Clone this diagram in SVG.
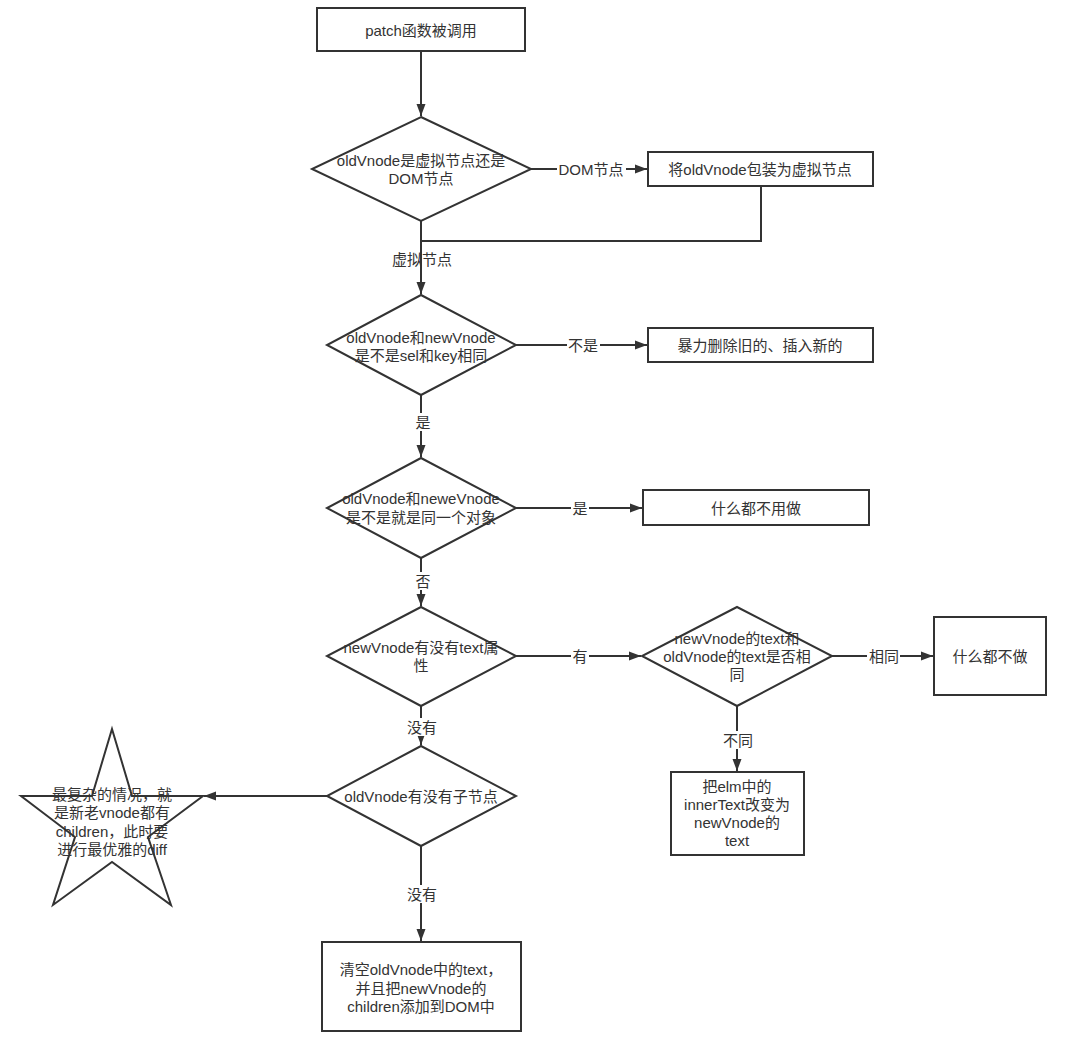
<svg xmlns="http://www.w3.org/2000/svg" width="1073" height="1046" viewBox="0 0 1073 1046">
<defs>
<marker id="arr" viewBox="0 0 12 10" refX="12" refY="5" markerWidth="12" markerHeight="10" markerUnits="userSpaceOnUse" orient="auto">
<path d="M0,0.5 L12,5 L0,9.5 Z" fill="#333"/>
</marker>
<style>
.shape{fill:#fff;stroke:#333;stroke-width:2}
.edge{fill:none;stroke:#333;stroke-width:2}
text{font-family:"Liberation Sans","Noto Sans CJK SC",sans-serif;font-size:15px;fill:#333;text-anchor:middle;dominant-baseline:central}
.lbg{fill:#fff}
</style>
</defs>
<rect width="1073" height="1046" fill="#fff"/>
<g id="connectors">
<path class="edge" d="M421,52 V116" marker-end="url(#arr)"/>
<path class="edge" d="M531,169 H647" marker-end="url(#arr)"/>
<path class="edge" d="M761,186 V241 H421"/>
<path class="edge" d="M421,221 V294" marker-end="url(#arr)"/>
<path class="edge" d="M516,345 H647" marker-end="url(#arr)"/>
<path class="edge" d="M421,395 V457" marker-end="url(#arr)"/>
<path class="edge" d="M516,508 H642" marker-end="url(#arr)"/>
<path class="edge" d="M421,558 V606" marker-end="url(#arr)"/>
<path class="edge" d="M516,656 H641" marker-end="url(#arr)"/>
<path class="edge" d="M832,656 H933" marker-end="url(#arr)"/>
<path class="edge" d="M737,706 V771" marker-end="url(#arr)"/>
<path class="edge" d="M421,706 V745" marker-end="url(#arr)"/>
<path class="edge" d="M327,796 H204" marker-end="url(#arr)"/>
<path class="edge" d="M421,846 V941" marker-end="url(#arr)"/>
<rect class="lbg" x="557" y="160" width="69" height="18"/>
<text x="591" y="169">DOM节点</text>
<text x="422" y="259">虚拟节点</text>
<rect class="lbg" x="567" y="336" width="33" height="18"/>
<text x="583" y="345">不是</text>
<rect class="lbg" x="414" y="413" width="18" height="18"/>
<text x="423" y="422">是</text>
<rect class="lbg" x="571" y="499" width="18" height="18"/>
<text x="580" y="508">是</text>
<rect class="lbg" x="414" y="572" width="18" height="18"/>
<text x="423" y="581">否</text>
<rect class="lbg" x="571" y="647" width="18" height="18"/>
<text x="580" y="656">有</text>
<rect class="lbg" x="867" y="647" width="33" height="18"/>
<text x="884" y="656">相同</text>
<rect class="lbg" x="721" y="731" width="33" height="18"/>
<text x="738" y="740">不同</text>
<rect class="lbg" x="405" y="718" width="33" height="18"/>
<text x="422" y="727">没有</text>
<rect class="lbg" x="405" y="885" width="33" height="18"/>
<text x="422" y="894">没有</text>
</g>
<g id="n1"><rect class="shape" x="317" y="8" width="208" height="43"/><text x="421" y="30">patch函数被调用</text></g>
<g id="n2"><polygon class="shape" points="421,117 531,169 421,221 312,169"/><text x="421" y="160">oldVnode是虚拟节点还是</text><text x="421" y="178">DOM节点</text></g>
<g id="n3"><rect class="shape" x="648" y="152" width="225" height="34"/><text x="760" y="169">将oldVnode包装为虚拟节点</text></g>
<g id="n4"><polygon class="shape" points="421,295 516,345 421,395 327,345"/><text x="421" y="337">oldVnode和newVnode</text><text x="421" y="355">是不是sel和key相同</text></g>
<g id="n5"><rect class="shape" x="648" y="328" width="225" height="34"/><text x="760" y="345">暴力删除旧的、插入新的</text></g>
<g id="n6"><polygon class="shape" points="421,458 516,508 421,558 327,508"/><text x="421" y="498">oldVnode和neweVnode</text><text x="421" y="517">是不是就是同一个对象</text></g>
<g id="n7"><rect class="shape" x="643" y="490" width="226" height="35"/><text x="756" y="508">什么都不用做</text></g>
<g id="n8"><polygon class="shape" points="421,607 516,656 421,706 327,656"/><text x="421" y="647">newVnode有没有text属</text><text x="421" y="665">性</text></g>
<g id="n9"><polygon class="shape" points="737,607 832,656 737,706 642,656"/><text x="737" y="638">newVnode的text和</text><text x="737" y="656">oldVnode的text是否相</text><text x="737" y="674">同</text></g>
<g id="n10"><rect class="shape" x="934" y="617" width="112" height="78"/><text x="990" y="656">什么都不做</text></g>
<g id="n11"><rect class="shape" x="671" y="772" width="133" height="83"/><text x="737" y="786">把elm中的</text><text x="737" y="804">innerText改变为</text><text x="737" y="822">newVnode的</text><text x="737" y="840">text</text></g>
<g id="n12"><polygon class="shape" points="421,746 516,796 421,846 327,796"/><text x="421" y="796">oldVnode有没有子节点</text></g>
<g id="n13"><polygon class="shape" points="112,729 132,796 203,796 148,837 171,905 112,862 53,905 75,837 21,796 92,796"/><text x="112" y="794">最复杂的情况，就</text><text x="112" y="812">是新老vnode都有</text><text x="112" y="831">children，此时要</text><text x="112" y="849">进行最优雅的diff</text></g>
<g id="n14"><rect class="shape" x="322" y="942" width="199" height="89"/><text x="421" y="969">清空oldVnode中的text，</text><text x="421" y="988">并且把newVnode的</text><text x="421" y="1006">children添加到DOM中</text></g>
</svg>
